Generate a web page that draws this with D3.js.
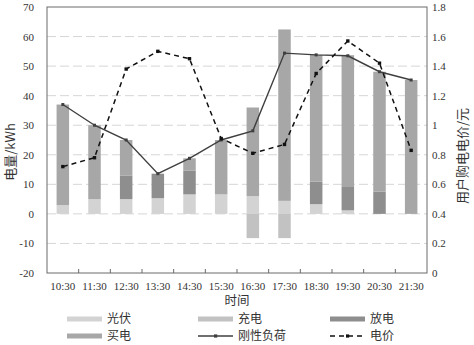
<!DOCTYPE html>
<html>
<head>
<meta charset="utf-8">
<script src="https://cdn.jsdelivr.net/npm/d3@7"></script>
<style>
  html, body { margin: 0; padding: 0; background: #fff; }
  svg { display: block; }
</style>
</head>
<body>
<svg id="chart" width="474" height="345"></svg>
<script>
// Hourly energy balance: stacked sources/sinks (kWh) plus rigid load and tariff
const times = ["10:30","11:30","12:30","13:30","14:30","15:30","16:30","17:30","18:30","19:30","20:30","21:30"];
const pv        = [3, 5, 5, 5.3, 6.6, 6.6, 6, 4.4, 3.3, 1.2, 0, 0];          // 光伏
const charge    = [0, 0, 0, 0, 0, 0, -8.2, -8.2, 0, 0, 0, 0];                // 充电
const discharge = [0, 0, 7.9, 8.3, 8, 0, 0, 0, 7.6, 7.9, 7.5, 0];            // 放电
const buy       = [34, 25, 12.1, 0, 4.2, 18.4, 30, 58, 42.9, 44.6, 40.6, 45.3]; // 买电
const load      = [37, 30, 25, 13.6, 18.8, 25, 28.1, 54.4, 53.8, 53.5, 48.1, 45.3]; // 刚性负荷
const price     = [0.72, 0.78, 1.38, 1.50, 1.45, 0.91, 0.81, 0.87, 1.35, 1.57, 1.42, 0.83]; // 电价
const leftTicks  = [-20, -10, 0, 10, 20, 30, 40, 50, 60, 70];
const rightTicks = [0, 0.2, 0.4, 0.6, 0.8, 1, 1.2, 1.4, 1.6, 1.8];

const colors = { pv: "#d3d3d3", charge: "#c2c2c2", discharge: "#8e8e8e", buy: "#a7a7a7" };

const svg = d3.select("#chart");
const m = { left: 47, right: 427, top: 7, bottom: 273 };

const x = d3.scaleBand().domain(times).range([m.left, m.right]);
const y = d3.scaleLinear().domain([-20, 70]).range([m.bottom, m.top]);
const y2 = d3.scaleLinear().domain([0, 1.8]).range([m.bottom, m.top]);

const numFont = "'Liberation Serif', 'Times New Roman', serif";
const cjkFont = "'Noto Sans CJK SC', 'Liberation Serif', serif";

// dashed gridlines
svg.append("g").selectAll("line")
  .data(leftTicks.filter(t => t > -20 && t < 70))
  .join("line")
  .attr("x1", m.left).attr("x2", m.right)
  .attr("y1", d => y(d)).attr("y2", d => y(d))
  .attr("stroke", "#d6d6d6").attr("stroke-width", 1)
  .attr("stroke-dasharray", "9,4");

// stacked bars
const barW = 12.5;
const rows = times.map((t, i) => ({ t, pv: pv[i], discharge: discharge[i], buy: buy[i], charge: charge[i] }));
const stack = d3.stack().keys(["pv", "discharge", "buy"])(rows);
const barsG = svg.append("g");
stack.forEach(layer => {
  barsG.append("g").attr("fill", colors[layer.key])
    .selectAll("rect").data(layer).join("rect")
    .attr("x", d => x(d.data.t) + x.bandwidth() / 2 - barW / 2)
    .attr("width", barW)
    .attr("y", d => y(d[1]))
    .attr("height", d => Math.max(0, y(d[0]) - y(d[1])));
});
barsG.append("g").attr("fill", colors.charge)
  .selectAll("rect").data(rows.filter(d => d.charge < 0)).join("rect")
  .attr("x", d => x(d.t) + x.bandwidth() / 2 - barW / 2)
  .attr("width", barW)
  .attr("y", y(0))
  .attr("height", d => y(d.charge) - y(0));

// frame
svg.append("rect")
  .attr("x", m.left).attr("y", m.top)
  .attr("width", m.right - m.left).attr("height", m.bottom - m.top)
  .attr("fill", "none").attr("stroke", "#6a6a6a").attr("stroke-width", 1);

// x axis with inward ticks at band boundaries
const xAxisG = svg.append("g");
xAxisG.selectAll("line.tk")
  .data(times.slice(1))
  .join("line")
  .attr("x1", d => x(d)).attr("x2", d => x(d))
  .attr("y1", m.bottom).attr("y2", m.bottom - 4)
  .attr("stroke", "#6a6a6a");
xAxisG.selectAll("text")
  .data(times).join("text")
  .attr("x", d => x(d) + x.bandwidth() / 2)
  .attr("y", 290)
  .attr("text-anchor", "middle")
  .attr("font-family", numFont).attr("font-size", 11).attr("fill", "#333")
  .text(d => d);

// left axis labels
svg.append("g").selectAll("text")
  .data(leftTicks).join("text")
  .attr("x", 34).attr("y", d => y(d) + 4)
  .attr("text-anchor", "end")
  .attr("font-family", numFont).attr("font-size", 11).attr("fill", "#333")
  .text(d => d);

// right axis labels
svg.append("g").selectAll("text")
  .data(rightTicks).join("text")
  .attr("x", 432).attr("y", d => y2(d) + 4)
  .attr("text-anchor", "start")
  .attr("font-family", numFont).attr("font-size", 11).attr("fill", "#333")
  .text(d => d);

// axis titles
svg.append("text")
  .attr("transform", "translate(15,152) rotate(-90)")
  .attr("text-anchor", "middle")
  .attr("font-family", cjkFont).attr("font-size", 13).attr("fill", "#333")
  .text("电量/kWh");
svg.append("text")
  .attr("transform", "translate(467,156) rotate(-90)")
  .attr("text-anchor", "middle")
  .attr("font-family", cjkFont).attr("font-size", 13).attr("fill", "#333")
  .text("用户购电电价/元");
svg.append("text")
  .attr("x", 237).attr("y", 305)
  .attr("text-anchor", "middle")
  .attr("font-family", cjkFont).attr("font-size", 12.5).attr("fill", "#333")
  .text("时间");

// rigid load line
const cx = d => x(d) + x.bandwidth() / 2;
const loadLine = d3.line().x((d, i) => cx(times[i])).y(d => y(d));
svg.append("path").datum(load)
  .attr("d", loadLine)
  .attr("fill", "none").attr("stroke", "#3f3f3f").attr("stroke-width", 1.4);
svg.append("g").selectAll("rect").data(load).join("rect")
  .attr("x", (d, i) => cx(times[i]) - 1.5).attr("y", d => y(d) - 1.5)
  .attr("width", 3).attr("height", 3).attr("fill", "#3f3f3f");

// tariff line
const priceLine = d3.line().x((d, i) => cx(times[i])).y(d => y2(d));
svg.append("path").datum(price)
  .attr("d", priceLine)
  .attr("fill", "none").attr("stroke", "#111").attr("stroke-width", 1.5)
  .attr("stroke-dasharray", "5,4");
svg.append("g").selectAll("rect").data(price).join("rect")
  .attr("x", (d, i) => cx(times[i]) - 1.7).attr("y", d => y2(d) - 1.7)
  .attr("width", 3.4).attr("height", 3.4).attr("fill", "#111");

// legend
const legend = [
  { label: "光伏", type: "bar", color: colors.pv, col: 0, row: 0 },
  { label: "充电", type: "bar", color: colors.charge, col: 1, row: 0 },
  { label: "放电", type: "bar", color: colors.discharge, col: 2, row: 0 },
  { label: "买电", type: "bar", color: colors.buy, col: 0, row: 1 },
  { label: "刚性负荷", type: "load", color: "#3f3f3f", col: 1, row: 1 },
  { label: "电价", type: "price", color: "#111", col: 2, row: 1 }
];
const colX = [67, 198, 330];
const rowY = [319, 336];
const lg = svg.append("g");
legend.forEach(e => {
  const gx = colX[e.col], gy = rowY[e.row];
  if (e.type === "bar") {
    lg.append("rect").attr("x", gx).attr("y", gy - 2.5).attr("width", 35).attr("height", 5).attr("fill", e.color);
  } else {
    lg.append("line").attr("x1", gx).attr("x2", gx + 35).attr("y1", gy).attr("y2", gy)
      .attr("stroke", e.color).attr("stroke-width", e.type === "price" ? 1.5 : 1.4)
      .attr("stroke-dasharray", e.type === "price" ? "5,4" : null);
    lg.append("rect").attr("x", gx + 16).attr("y", gy - 1.6).attr("width", 3.2).attr("height", 3.2).attr("fill", e.color);
  }
  lg.append("text").attr("x", gx + 40).attr("y", gy + 4.3)
    .attr("font-family", cjkFont).attr("font-size", 12).attr("fill", "#333")
    .text(e.label);
});
</script>
</body>
</html>
